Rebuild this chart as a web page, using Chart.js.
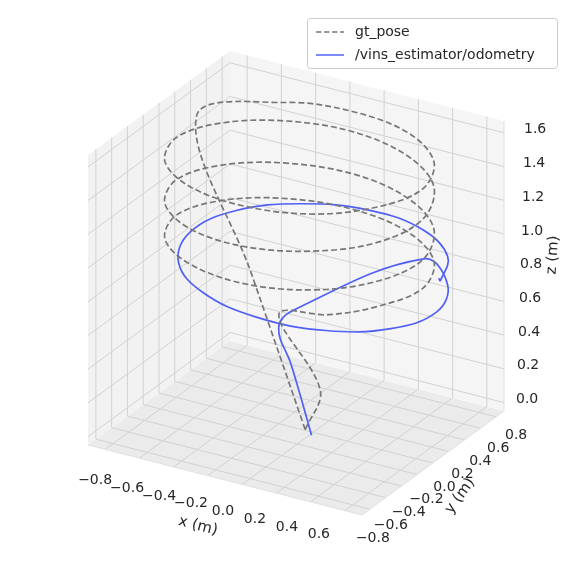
<!DOCTYPE html>
<html><head><meta charset="utf-8">
<script src="https://cdn.jsdelivr.net/npm/chart.js@4"></script>
<style>html,body{margin:0;padding:0;background:#fff}#wrap{width:575px;height:570px}</style>
</head><body><div id="wrap"><canvas id="c"></canvas></div>
<script>
const seriesNames = ['gt_pose', '/vins_estimator/odometry'];
const xTicks = [-0.8,-0.6,-0.4,-0.2,0.0,0.2,0.4,0.6];
const yTicks = [-0.8,-0.6,-0.4,-0.2,0.0,0.2,0.4,0.6,0.8];
const zTicks = [0.0,0.2,0.4,0.6,0.8,1.0,1.2,1.4,1.6];
const gtX = [0.00,-0.37,-0.75,-0.44,-0.08,0.28,0.54,0.64,0.54,0.28,-0.08,-0.44,-0.70,-0.80,
  -0.70,-0.44,-0.08,0.28,0.54,0.64,0.54,0.28,-0.08,-0.44,-0.70,-0.80,
  -0.70,-0.44,-0.08,0.28,0.54,0.64,0.54,0.28,-0.08,-0.44,-0.70,-0.80,
  -0.70,-0.44,-0.08,0.28,0.54,0.64,0.54,0.36,0.10,0.18,0.0];
const gtY = [-0.10,0.02,0.15,0.62,0.72,0.62,0.36,0.00,-0.36,-0.62,-0.72,-0.62,-0.36,0.00,
  0.36,0.62,0.72,0.62,0.36,0.00,-0.36,-0.62,-0.72,-0.62,-0.36,0.00,
  0.36,0.62,0.72,0.62,0.36,0.00,-0.36,-0.62,-0.72,-0.62,-0.36,0.00,
  0.36,0.62,0.72,0.62,0.36,0.00,-0.36,-0.58,-0.65,-0.30,-0.10];
const gtZ = [0.00,0.79,1.58,1.58,1.58,1.58,1.57,1.56,1.55,1.53,1.52,1.51,1.50,1.49,
  1.48,1.47,1.46,1.44,1.42,1.38,1.34,1.31,1.28,1.26,1.25,1.24,
  1.23,1.22,1.21,1.19,1.17,1.14,1.11,1.08,1.06,1.05,1.04,1.03,
  1.02,1.01,1.00,0.99,0.98,0.97,0.96,0.94,0.90,0.35,0.00];
const voX = [0.06,0.03,0.00,-0.04,0.00,0.36,0.62,0.72,0.62,0.36,0.00,-0.36,-0.62,-0.72,-0.62,-0.36,0.00,0.36,0.62,0.72,0.66];
const voY = [-0.15,-0.20,-0.28,-0.35,-0.25,0.62,0.36,0.00,-0.36,-0.62,-0.72,-0.62,-0.36,0.00,0.36,0.62,0.72,0.62,0.36,0.05,0.16];
const voZ = [0.00,0.20,0.45,0.68,0.76,0.86,0.86,0.85,0.85,0.86,0.88,0.90,0.92,0.95,0.98,1.00,1.02,1.03,1.03,1.02,0.98];

const XR=[-0.9,0.7], YR=[-0.9,0.9], ZR=[-0.05,1.67];
const A=[88,445], BU=[274,70], DV=[142,-104], H=290;
function proj(x,y,z){
  const u=(x-XR[0])/(XR[1]-XR[0]), v=(y-YR[0])/(YR[1]-YR[0]), w=(z-ZR[0])/(ZR[1]-ZR[0]);
  return {x:A[0]+u*BU[0]+v*DV[0], y:A[1]+u*BU[1]+v*DV[1]-w*H};
}
function pts(X,Y,Z){return X.map((x,i)=>proj(x,Y[i],Z[i]));}

const bg={id:'bg',beforeDatasetsDraw(ch){
  const c=ch.ctx; c.save();
  const poly=(P,f)=>{c.beginPath();P.forEach((p,i)=>i?c.lineTo(p.x,p.y):c.moveTo(p.x,p.y));c.closePath();c.fillStyle=f;c.fill();};
  poly([proj(XR[0],YR[0],ZR[0]),proj(XR[1],YR[0],ZR[0]),proj(XR[1],YR[1],ZR[0]),proj(XR[0],YR[1],ZR[0])],'#ebebeb');
  poly([proj(XR[0],YR[0],ZR[0]),proj(XR[0],YR[1],ZR[0]),proj(XR[0],YR[1],ZR[1]),proj(XR[0],YR[0],ZR[1])],'#f2f2f2');
  poly([proj(XR[0],YR[1],ZR[0]),proj(XR[1],YR[1],ZR[0]),proj(XR[1],YR[1],ZR[1]),proj(XR[0],YR[1],ZR[1])],'#f5f5f5');
  c.strokeStyle='#d2d2d2'; c.lineWidth=1;
  const ln=(p,q)=>{c.beginPath();c.moveTo(p.x,p.y);c.lineTo(q.x,q.y);c.stroke();};
  xTicks.forEach(x=>{ln(proj(x,YR[0],ZR[0]),proj(x,YR[1],ZR[0]));ln(proj(x,YR[1],ZR[0]),proj(x,YR[1],ZR[1]));});
  yTicks.forEach(y=>{ln(proj(XR[0],y,ZR[0]),proj(XR[1],y,ZR[0]));ln(proj(XR[0],y,ZR[0]),proj(XR[0],y,ZR[1]));});
  zTicks.forEach(z=>{ln(proj(XR[0],YR[0],z),proj(XR[0],YR[1],z));ln(proj(XR[0],YR[1],z),proj(XR[1],YR[1],z));});
  c.strokeStyle='#e0e0e0';
  ln(proj(XR[0],YR[0],ZR[0]),proj(XR[1],YR[0],ZR[0]));ln(proj(XR[1],YR[0],ZR[0]),proj(XR[1],YR[1],ZR[0]));ln(proj(XR[1],YR[1],ZR[0]),proj(XR[1],YR[1],ZR[1]));
  c.restore();
},afterDraw(ch){
  const c=ch.ctx; c.save();
  c.fillStyle='#262626'; c.font='14px "DejaVu Sans"'; c.textAlign='center'; c.textBaseline='middle';
  const f=v=>(v<0?'\u2212':'')+Math.abs(v).toFixed(1);
  xTicks.forEach((x,i)=>{const t=i/(xTicks.length-1);const p=proj(x,YR[0],ZR[0]);c.fillText(f(x),p.x-10-16*t,p.y+31-7*t);});
  yTicks.forEach((y,i)=>{const t=i/(yTicks.length-1);const p=proj(XR[1],y,ZR[0]);c.fillText(f(y),p.x+3+17*t,p.y+29-10*t);});
  c.textAlign='left';
  zTicks.forEach(z=>{const p=proj(XR[1],YR[1],z);c.fillText(f(z),p.x+12+z*5,p.y-3);});
  c.font='15px "DejaVu Sans"'; c.textAlign='center';
  const lab=(t,x,y,a)=>{c.save();c.translate(x,y);c.rotate(a);c.fillText(t,0,0);c.restore();};
  lab('x (m)',198,526,0.25); lab('y (m)',460,496,-0.95); lab('z (m)',553,255,-1.5);
  c.fillStyle='rgba(255,255,255,0.85)'; c.strokeStyle='#cccccc'; c.lineWidth=1;
  c.beginPath(); c.roundRect(307.5,18.5,250,50,3); c.fill(); c.stroke();
  c.lineWidth=1.5; c.strokeStyle='#777777'; c.setLineDash([5.5,2.5]);
  c.beginPath(); c.moveTo(316,32); c.lineTo(344,32); c.stroke();
  c.setLineDash([]); c.strokeStyle='#5060f7';
  c.beginPath(); c.moveTo(316,55); c.lineTo(344,55); c.stroke();
  c.fillStyle='#262626'; c.font='14px "DejaVu Sans"'; c.textAlign='left';
  c.fillText(seriesNames[0],355,32); c.fillText(seriesNames[1],355,55);
  c.restore();
}};

new Chart(document.getElementById('c'),{
  type:'scatter',
  data:{datasets:[
    {label:seriesNames[0],data:pts(gtX,gtY,gtZ),showLine:true,borderColor:'#777777',borderWidth:1.7,borderDash:[6,3],pointRadius:0,tension:0.35,fill:false},
    {label:seriesNames[1],data:pts(voX,voY,voZ),showLine:true,borderColor:'#5060f7',borderWidth:1.7,pointRadius:0,tension:0.4,fill:false}
  ]},
  options:{responsive:true,maintainAspectRatio:false,animation:false,
    layout:{padding:0},
    plugins:{legend:{display:false},tooltip:{enabled:false}},
    scales:{x:{type:'linear',min:0,max:575,display:false},y:{type:'linear',min:0,max:570,reverse:true,display:false}}
  },
  plugins:[bg]
});
</script></body></html>
